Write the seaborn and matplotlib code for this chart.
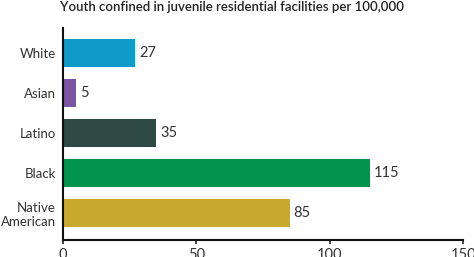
import seaborn as sns
import matplotlib.pyplot as plt
import pandas as pd

groups = ['White', 'Asian', 'Latino', 'Black', 'Native\nAmerican']
rates = [27, 5, 35, 115, 85]
colors = ['#0f9ac9', '#7d55a5', '#2d4a44', '#00944f', '#c9a92c']
xticks = [0, 50, 100, 150]

df = pd.DataFrame({'group': groups, 'rate': rates})

sns.set_style('white')
plt.rcParams['font.family'] = ['Lato', 'DejaVu Sans']

fig = plt.figure(figsize=(4.74, 2.57), dpi=100)
ax = fig.add_axes([0.133, 0.066, 0.844, 0.825])
sns.barplot(data=df, x='rate', y='group', hue='group', palette=colors,
            width=0.7, legend=False, ax=ax, saturation=1, linewidth=0)

for i, v in enumerate(rates):
    ax.text(v + 1.5, i, str(v), va='center', ha='left', fontsize=10.5, color='#333333')

ax.set_xlim(0, 150)
ax.set_ylim(4.675, -0.625)
ax.set_xticks(xticks)
ax.set_xlabel('')
ax.set_ylabel('')
ax.tick_params(axis='x', length=3, width=1.2, color='#222222', labelsize=10.5,
               labelcolor='#333333', pad=3, bottom=True)
ax.tick_params(axis='y', length=0, labelsize=9.5, labelcolor='#333333', pad=5)
for lab in ax.get_yticklabels():
    lab.set_multialignment('right')
sns.despine(ax=ax)
for s in ['left', 'bottom']:
    ax.spines[s].set_color('#111111')
    ax.spines[s].set_linewidth(1.5)

fig.text(0.49, 0.972, 'Youth confined in juvenile residential facilities per 100,000',
         ha='center', va='center', fontsize=9.5, fontweight='semibold', color='#222222')

fig.savefig('out.png', dpi=100)
